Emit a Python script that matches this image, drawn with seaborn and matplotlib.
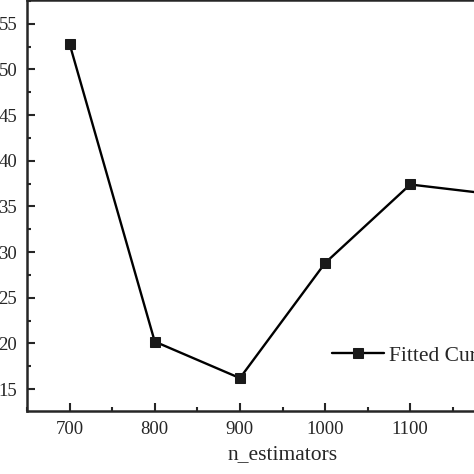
import pandas as pd
import seaborn as sns
import matplotlib.pyplot as plt
from matplotlib.ticker import MultipleLocator

# values
n_estimators = [700, 800, 900, 1000, 1100, 1200]
scores = [52.8, 20.2, 16.2, 28.8, 37.4, 36.3]
series_label = "Fitted Curve"

df = pd.DataFrame({"n_estimators": n_estimators, "score": scores})

sns.set_style("ticks")
plt.rcParams["font.family"] = ["Liberation Serif", "DejaVu Serif"]

fig = plt.figure(figsize=(4.74, 4.74), dpi=100)
# the reference is a crop: the axes run past the right edge of the picture
ax = fig.add_axes([27 / 474, 63 / 474, 511 / 474, 411 / 474])

sns.lineplot(data=df, x="n_estimators", y="score", marker="s", color="black",
             markersize=7.5, markerfacecolor="#1a1a1a", markeredgecolor="#1a1a1a",
             linewidth=1.7, label=series_label, ax=ax)

ax.set_xlim(650, 1250)
ax.set_ylim(12.6, 57.6)
ax.xaxis.set_major_locator(MultipleLocator(100))
ax.xaxis.set_minor_locator(MultipleLocator(50))
ax.yaxis.set_major_locator(MultipleLocator(5))
ax.yaxis.set_minor_locator(MultipleLocator(2.5))
ax.tick_params(which="major", direction="in", length=5.5, width=1.5, labelsize=13.5, pad=7)
ax.tick_params(which="minor", direction="in", length=3, width=1.5)
for s in ax.spines.values():
    s.set_linewidth(1.8)

ax.set_xlabel("n_estimators", fontsize=15.5, labelpad=5)
ax.set_ylabel("")

ax.legend(loc="center left", bbox_to_anchor=(0.58, 0.134), frameon=False, fontsize=15.5,
          handlelength=2.4, handletextpad=0.25, borderaxespad=0)

fig.savefig("out.png", dpi=100)
